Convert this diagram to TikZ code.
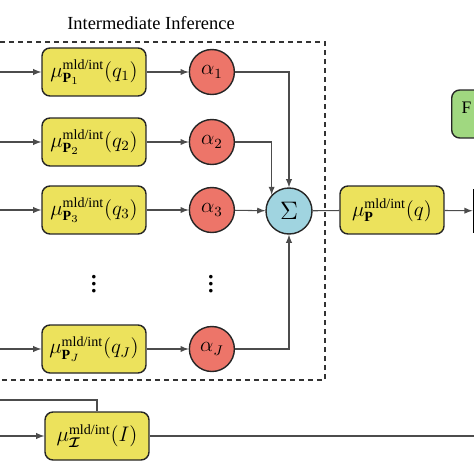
\documentclass[tikz,border=0pt]{standalone}
\usepackage{fontspec}
\setmainfont{Liberation Serif}
\usepackage{amsmath,bm}
\usetikzlibrary{arrows,positioning}

\definecolor{boxyellow}{RGB}{236,226,92}
\definecolor{alphared}{RGB}{237,117,105}
\definecolor{sumblue}{RGB}{160,212,224}
\definecolor{fusegreen}{RGB}{160,216,128}

\newcommand{\mldint}{\mbox{\footnotesize mld/int}}

\begin{document}
\begin{tikzpicture}[
    x=0.02cm, y=-0.02cm,
    % Define styles for nodes
    mubox/.style={draw=black!85, line width=0.8pt, fill=boxyellow, rounded corners=1.6mm, minimum width=2.08cm, minimum height=0.96cm, inner sep=1pt, align=center, font=\large},
    weight/.style={circle, draw=black!85, line width=0.8pt, fill=alphared, minimum size=0.9cm, inner sep=0pt, font=\large},
    sumnode/.style={circle, draw=black!85, line width=0.8pt, fill=sumblue, minimum size=0.92cm, inner sep=0pt, font=\Large},
    fusebox/.style={draw=black!85, line width=0.8pt, fill=fusegreen, rounded corners=1.6mm, minimum width=2cm, minimum height=0.96cm, text width=1.6cm, inner xsep=0.2cm, align=left, text depth=0.25cm},
    nextbox/.style={draw=black, line width=1.4pt, minimum width=1cm, minimum height=0.84cm},
    arrow/.style={->, >=latex, draw=gray!60!black, line width=0.6pt},
    line/.style={draw=gray!60!black, line width=0.6pt},
    frame/.style={draw=black!80, dashed, dash pattern=on 0.1cm off 0.08cm, line width=0.8pt},
    title/.style={font=\fontsize{10.5}{12}\selectfont}
]

% Keep the page the size of the reference
\useasboundingbox (0,0) rectangle (474,474);
\clip (0,0) rectangle (474,474);

% Intermediate inference branch
\node[mubox] (p1) at (94,72) {$\mu^{\mldint}_{\mathbf{P}_1}(q_1)$};
\node[mubox] (p2) at (94,142) {$\mu^{\mldint}_{\mathbf{P}_2}(q_2)$};
\node[mubox] (p3) at (94,210) {$\mu^{\mldint}_{\mathbf{P}_3}(q_3)$};
\node[font=\LARGE, inner sep=0pt] (pdots) at (94,279) {$\vdots$};
\node[mubox] (pJ) at (94,349) {$\mu^{\mldint}_{\mathbf{P}_J}(q_J)$};

\node[weight, right=0.84cm of p1] (a1) {$\alpha_1$};
\node[weight, right=0.84cm of p2] (a2) {$\alpha_2$};
\node[weight, right=0.84cm of p3] (a3) {$\alpha_3$};
\node[font=\LARGE, inner sep=0pt] (adots) at (211,279) {$\vdots$};
\node[weight, right=0.84cm of pJ] (aJ) {$\alpha_J$};

\node[sumnode] (sum) at (289,211) {$\Sigma$};

% Inputs from the left edge
\coordinate (in1) at (0,72);
\coordinate (in2) at (0,142);
\coordinate (in3) at (0,210);
\coordinate (inJ) at (0,349);
\draw[arrow] (in1) -- (p1);
\draw[arrow] (in2) -- (p2);
\draw[arrow] (in3) -- (p3);
\draw[arrow] (inJ) -- (pJ);

% Box to weight
\draw[arrow] (p1) -- (a1);
\draw[arrow] (p2) -- (a2);
\draw[arrow] (p3) -- (a3);
\draw[arrow] (pJ) -- (aJ);

% Weights into the sum
\draw[arrow] (a1) -| (sum);
\draw[arrow] (a2) -| (sum.137);
\draw[arrow] (a3) -- (sum);
\draw[arrow] (aJ) -| (sum);

% Dashed container with its title
\draw[frame] (-20,42) rectangle (325,380);
\node[title] (frametitle) at (151,23) {Intermediate Inference};

% Combined output
\node[mubox] (pout) at (392,210) {$\mu^{\mldint}_{\mathbf{P}}(q)$};
\draw[line] (sum) -- (pout);
\node[nextbox, anchor=west] (next) at (472.5,211) {};
\draw[arrow] (pout) -- (next);

% Green block at the right edge
\node[fusebox, anchor=west] (fuse) at (451,114) {F};

% Global branch at the bottom
\node[mubox] (ibox) at (97,436) {$\mu^{\mldint}_{\bm{\mathcal{I}}}(I)$};
\coordinate (gin) at (0,400);
\coordinate (iin) at (0,436);
\coordinate (iout) at (480,436);
\draw[line] (gin) -| (ibox);
\draw[arrow] (iin) -- (ibox);
\draw[line] (ibox) -- (iout);

\end{tikzpicture}
\end{document}
